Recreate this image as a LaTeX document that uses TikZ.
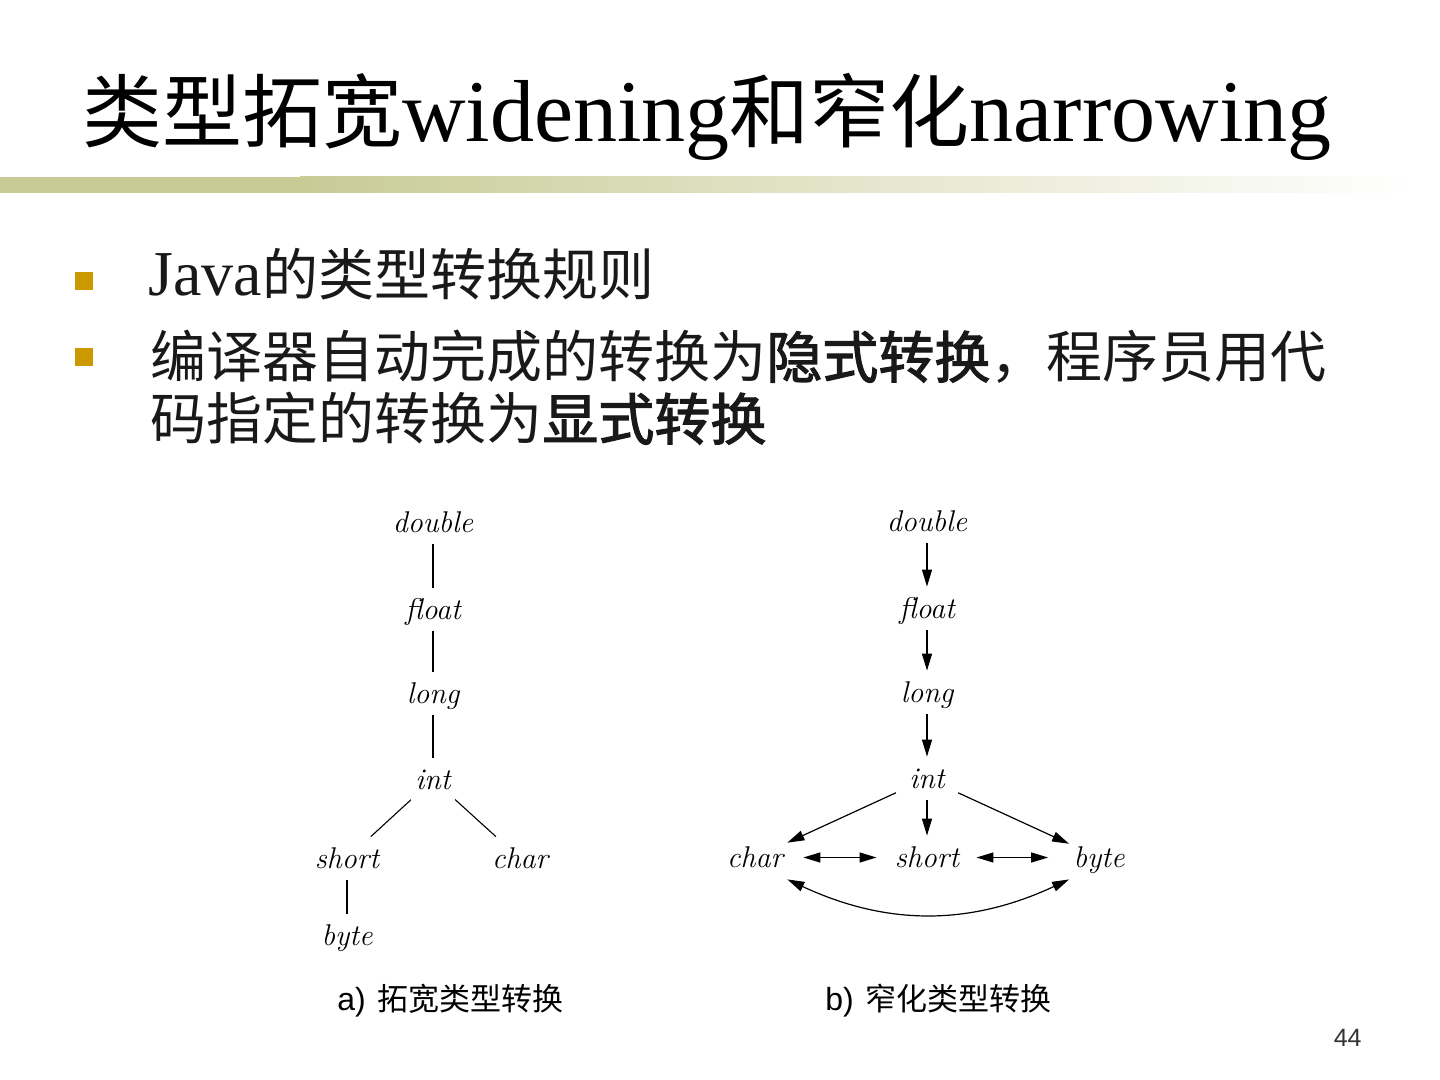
\documentclass[tikz,border=0pt]{standalone}
\usepackage{fontspec}
\usetikzlibrary{arrows.meta}
\newfontfamily\tnr{Liberation Serif}
\newfontfamily\sansf{Liberation Sans}
\newfontfamily\cjk{Noto Sans CJK SC}
\newfontfamily\cjkb{Noto Sans CJK SC}[FakeBold=2]
\definecolor{barc}{RGB}{200,203,150}
\definecolor{bulc}{RGB}{204,153,0}
\definecolor{txt}{RGB}{25,25,25}
\tikzset{
  lbl/.style={font=\fontsize{15}{18}\selectfont\itshape, text height=10.5pt, text depth=1pt, inner xsep=2pt, inner ysep=5pt, anchor=base},
  link/.style={line width=0.55pt},
  arr/.style={line width=0.6pt, -{Triangle[length=8.5pt,width=5pt]}},
  darr/.style={line width=0.6pt, {Triangle[length=8.5pt,width=5pt]}-{Triangle[length=8.5pt,width=5pt]}},
  txtnode/.style={anchor=base west, inner sep=0pt, text=txt}
}
\begin{document}
\begin{tikzpicture}[x=0.5pt,y=-0.5pt]
\useasboundingbox (0,0) rectangle (1440,1080);
\fill[white] (0,0) rectangle (1440,1080);
% title
\node[txtnode, text=black] (title) at (82,142) {{\cjk\fontsize{40}{48}\selectfont 类型拓宽}{\tnr\fontsize{44}{48}\selectfont widening}{\cjk\fontsize{40}{48}\selectfont 和窄化}{\tnr\fontsize{44}{48}\selectfont narrowing}};
% gradient bar
\fill[barc] (0,177) rectangle (300,193);
\shade[left color=barc, right color=barc!45] (300,177) rectangle (900,193);
\shade[left color=barc!45, right color=white] (900,177) rectangle (1420,193);
% bullets
\fill[bulc] (75,272) rectangle (93,290);
\fill[bulc] (75,348) rectangle (93,366);
\node[txtnode] (l1) at (148,296) {{\tnr\fontsize{32}{38}\selectfont Java}{\cjk\fontsize{28}{34}\selectfont 的类型转换规则}};
\node[txtnode] (l2) at (150,378) {\fontsize{28}{34}\selectfont{\cjk 编译器自动完成的转换为}{\cjkb 隐式转换}{\cjk ，程序员用代}};
\node[txtnode] (l3) at (150,440) {\fontsize{28}{34}\selectfont{\cjk 码指定的转换为}{\cjkb 显式转换}};
% diagram a
\node[lbl] (d1) at (433,532) {double};
\node[lbl] (f1) at (433,619) {float};
\node[lbl] (o1) at (433,703) {long};
\node[lbl] (i1) at (433,789) {int};
\node[lbl] (s1) at (347,868) {short};
\node[lbl] (c1) at (520,868) {char};
\node[lbl] (b1) at (347,945) {byte};
\draw[link] (d1) -- (f1);
\draw[link] (f1) -- (o1);
\draw[link] (o1) -- (i1);
\draw[link] (i1) -- (s1);
\draw[link] (i1) -- (c1);
\draw[link] (s1) -- (b1);
% diagram b
\node[lbl] (d2) at (927,531) {double};
\node[lbl] (f2) at (927,618) {float};
\node[lbl] (o2) at (927,702) {long};
\node[lbl] (i2) at (927,788) {int};
\node[lbl] (c2) at (755,867) {char};
\node[lbl] (s2) at (927,867) {short};
\node[lbl] (b2) at (1099,867) {byte};
\draw[arr] (d2) -- (f2);
\draw[arr] (f2) -- (o2);
\draw[arr] (o2) -- (i2);
\draw[arr, shorten <=5pt] (i2) -- (c2);
\draw[arr] (i2) -- (s2);
\draw[arr, shorten <=5pt] (i2) -- (b2);
\draw[darr, shorten <=8pt, shorten >=7pt] (c2.east) -- (s2.west);
\draw[darr, shorten <=6.5pt, shorten >=10.5pt] (s2.east) -- (b2.west);
\draw[darr] (c2.south east) to[bend right=25] (b2.south west);
% captions
\node[txtnode, text=black] (capa) at (337,1010) {{\sansf\fontsize{16}{18}\selectfont a)}\hspace{6pt}{\cjk\fontsize{15.5}{18}\selectfont 拓宽类型转换}};
\node[txtnode, text=black] (capb) at (825,1010) {{\sansf\fontsize{16}{18}\selectfont b)}\hspace{6pt}{\cjk\fontsize{15.5}{18}\selectfont 窄化类型转换}};
% page number
\node[anchor=base east, inner sep=0pt, text=black!80] (pnum) at (1362,1046) {\sansf\fontsize{12.5}{14}\selectfont 44};
\end{tikzpicture}
\end{document}
